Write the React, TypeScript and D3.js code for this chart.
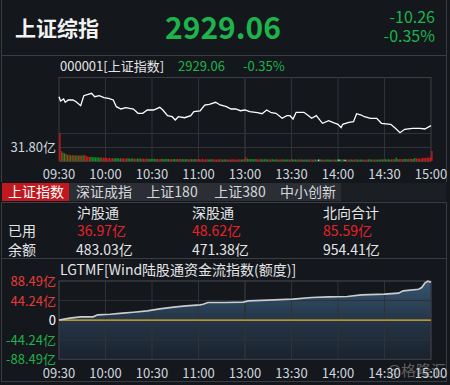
import React from "react";
import * as d3 from "d3";

// ---------- data ----------
const timeLabels = ["09:30", "10:00", "10:30", "11:00", "13:00", "13:30", "14:00", "14:30", "15:00"];
const prevClose = 2939.32;
const lastPrice = "2929.06";
const change = "-10.26";
const changePct = "-0.35%";

const priceMinute = [0, 1, 3, 4, 6, 9, 11, 14, 16, 21, 23, 26, 29, 32, 35, 37, 40, 43, 48, 51, 54, 57, 61, 65, 67, 70, 73, 75, 77, 81, 85, 87, 91, 94, 97, 101, 104, 108, 111, 114, 117, 120, 123, 128, 131, 134, 137, 140, 144, 147, 149, 151, 153, 158, 161, 163, 166, 170, 174, 177, 180, 182, 183, 187, 190, 192, 195, 197, 201, 205, 208, 214, 217, 220, 223, 228, 233, 236, 240];
const priceValue = [2943.43, 2941.3, 2942.29, 2940.66, 2941.8, 2941.8, 2940.96, 2938.97, 2943.93, 2945.12, 2943.43, 2943.93, 2942.94, 2942.64, 2941.8, 2938.48, 2937.34, 2937.98, 2937.34, 2935.21, 2935.21, 2936.84, 2936.84, 2938.18, 2936.84, 2934.02, 2933.52, 2931.88, 2933.52, 2933.02, 2934.02, 2936.0, 2936.35, 2939.32, 2939.67, 2940.66, 2939.32, 2938.48, 2937.34, 2937.34, 2936.49, 2936.84, 2936.0, 2935.5, 2935.01, 2936.84, 2935.5, 2935.21, 2932.73, 2934.02, 2934.02, 2932.38, 2935.7, 2935.7, 2934.02, 2932.73, 2934.02, 2930.25, 2931.54, 2930.55, 2929.75, 2928.07, 2929.75, 2930.74, 2931.04, 2935.01, 2934.36, 2933.52, 2932.73, 2932.73, 2930.25, 2929.75, 2927.77, 2925.6, 2927.27, 2927.77, 2927.77, 2927.42, 2929.06];

const volumeLabel = "31.80亿";
const volume = [
  62.9, 22.7, 18.8, 17.5, 15.9, 13.6, 14.3, 12.9, 13.6, 12.9, 12.5, 12.9, 12.2, 12.9, 12.0, 12.9, 13.6, 11.4, 9.8, 9.1, 9.5, 8.4, 8.8, 8.0, 8.4, 7.7, 8.0, 7.5, 7.7, 7.3,
  7.0, 6.4, 6.8, 6.1, 6.6, 5.9, 6.4, 6.8, 5.7, 6.1, 5.9, 6.4, 5.5, 5.9, 6.1, 5.2, 5.7, 5.9, 5.5, 5.0, 5.7, 5.2, 5.5, 4.8, 5.2, 5.0, 5.5, 4.5, 5.0, 4.8,
  5.2, 4.5, 4.8, 5.0, 4.3, 4.5, 4.8, 4.1, 4.5, 5.0, 4.3, 4.5, 3.9, 4.3, 4.5, 4.1, 4.8, 5.2, 4.3, 4.5, 3.9, 4.1, 4.5, 3.6, 4.3, 4.1, 3.9, 4.5, 4.3, 3.9,
  4.1, 3.9, 4.5, 3.6, 3.9, 4.3, 3.4, 3.9, 4.1, 3.6, 3.9, 3.4, 3.6, 4.1, 3.9, 3.2, 3.6, 3.9, 3.4, 3.6, 3.2, 3.9, 3.6, 3.4, 3.2, 3.6, 3.9, 3.4, 3.6, 4.3,
  8.4, 5.0, 4.5, 4.1, 4.3, 3.9, 4.5, 4.1, 3.6, 3.9, 4.3, 3.6, 3.9, 4.1, 3.4, 3.9, 3.6, 4.1, 3.4, 3.6, 3.9, 3.2, 3.6, 3.9, 3.4, 3.6, 3.2, 3.9, 3.4, 3.6,
  3.9, 3.4, 3.6, 3.2, 3.9, 3.4, 3.6, 3.0, 3.4, 3.6, 3.2, 3.4, 3.9, 3.2, 3.6, 3.4, 3.0, 3.4, 3.6, 3.2, 3.4, 3.0, 3.6, 3.2, 3.4, 2.9, 3.2, 3.6, 3.0, 3.4,
  3.6, 3.2, 3.9, 3.4, 3.0, 3.6, 3.4, 3.2, 3.6, 3.0, 3.4, 3.9, 3.6, 3.2, 3.4, 3.6, 3.0, 3.4, 3.2, 3.6, 3.9, 3.4, 3.2, 3.6, 3.4, 3.0, 3.6, 3.4, 3.9, 3.6,
  3.9, 3.6, 4.1, 3.4, 3.9, 4.3, 3.6, 8.0, 4.5, 4.1, 4.8, 3.9, 4.5, 5.0, 4.3, 4.8, 5.2, 4.5, 5.0, 7.0, 5.5, 6.1, 5.2, 5.9, 6.6, 7.3, 6.4, 7.7, 7.9, 8.2,
  22.7,
];
const volumeDir = [
  "rrggrgrgrg", "rgrgrgrrrr", "gggggggrrr",
  "rrrrrggggg", "rrrrggggrr", "gggrrrrggg",
  "gggrrrgggg", "grrgggrrrg", "gggrrgggrr",
  "rrrrrrgggr", "rrrrrgggrr", "rrrrrrrggr",
  "rggggggrrr", "gggggrrggg", "grrrggggrr",
  "ggggrrgggg", "grrrgggwgg", "rrggggrrgg",
  "wgggwrrggg", "rrggggrrrg", "ggrrgggggr",
  "ggggrrgggr", "rrgggrrggg", "rrrrrrrrrr",
  "r",
];

const tabs = ["上证指数", "深证成指", "上证180", "上证380", "中小创新"];
const tableCols = ["沪股通", "深股通", "北向合计"];
const rowLabels = ["已用", "余额"];
const usedValues = ["36.97亿", "48.62亿", "85.59亿"];
const remainValues = ["483.03亿", "471.38亿", "954.41亿"];

const flowTitle = "LGTMF[Wind陆股通资金流指数(额度)]";
const flowTicks = [88.49, 44.24, 0, -44.24, -88.49];
const flowTickLabels = ["88.49亿", "44.24亿", "0", "-44.24亿", "-88.49亿"];
const flowMinute = [0, 7, 14, 22, 25, 33, 41, 48, 57, 65, 74, 82, 91, 93, 96, 107, 119, 122, 135, 151, 163, 174, 186, 195, 210, 219, 222, 232, 234, 236, 238, 240];
const flowValue = [0.5, 4.5, 7.5, 7.5, 12, 13.5, 15.8, 18, 21, 25.5, 29.4, 32.3, 34.6, 36, 39.8, 39.8, 40.7, 43.6, 45.2, 47.5, 51.1, 52.7, 53.4, 57.2, 58.8, 61, 66.2, 70, 73.7, 83.6, 88.2, 85.59];

// ---------- styles ----------
const BG = "#14171c";
const BORDER = "#3a3d43";
const GRID = "#2f3238";
const GREEN = "#1db44c";
const RED = "#e8222a";
const TEXT = "#e4e6e8";
const AXIS_TEXT = "#cfd6de";
const FONT = "'Noto Sans CJK SC', 'Noto Sans', sans-serif";

export default function App() {
  const x = d3.scaleLinear().domain([0, 240]).range([59, 431]);
  const span = 0.4957 * 28;
  const yPrice = d3.scaleLinear().domain([prevClose - span, prevClose + span]).range([133, 77]);
  const yVol = d3.scaleLinear().domain([0, 63.6]).range([161, 133]);
  const yFlow = d3.scaleLinear().domain([-88.49, 88.49]).range([359.3, 281]);

  const priceLine = d3
    .line<number>()
    .x((_, i) => x(priceMinute[i]))
    .y((d) => yPrice(d))(priceValue) as string;

  const flowLine = d3
    .line<number>()
    .x((_, i) => x(flowMinute[i]))
    .y((d) => yFlow(d))(flowValue) as string;
  const flowArea = d3
    .area<number>()
    .x((_, i) => x(flowMinute[i]))
    .y0(359.3)
    .y1((d) => yFlow(d))(flowValue) as string;

  const dirs = volumeDir.join("");
  const dirColor = (c: string) => (c === "r" ? "#e01818" : c === "w" ? "#f0f0f0" : "#0f9a1e");

  const gridXs = timeLabels.map((_, i) => x(i * 30));

  return (
    <svg
      width={450}
      height={385}
      style={{ position: "absolute", left: 0, top: 0, display: "block", fontFamily: FONT }}
    >
      <defs>
        <linearGradient id="flowGrad" x1="0" y1="281" x2="0" y2="359" gradientUnits="userSpaceOnUse">
          <stop offset="0" stopColor="#36556f" />
          <stop offset="0.5" stopColor="#253648" />
          <stop offset="1" stopColor="#1a222d" />
        </linearGradient>
      </defs>
      <rect x={0} y={0} width={450} height={385} fill={BG} />

      {/* header */}
      <text x={15} y={36} fill="#f2f2f2" fontSize={21} fontWeight="bold">上证综指</text>
      <text x={165} y={39} fill={GREEN} fontSize={30} fontWeight="bold">{lastPrice}</text>
      <text x={435} y={23} fill={GREEN} fontSize={16} textAnchor="end">{change}</text>
      <text x={435} y={42} fill={GREEN} fontSize={16} textAnchor="end">{changePct}</text>

      {/* outer frames */}
      <line x1={1.5} y1={0} x2={1.5} y2={182} stroke={BORDER} />
      <line x1={446.5} y1={0} x2={446.5} y2={182} stroke={BORDER} />
      <line x1={1.5} y1={55.5} x2={446.5} y2={55.5} stroke={BORDER} />

      {/* top chart title */}
      <text x={60} y={71} fill={TEXT} fontSize={13}>000001[上证指数]</text>
      <text x={178} y={71} fill={GREEN} fontSize={13}>{lastPrice}</text>
      <text x={243} y={71} fill={GREEN} fontSize={13}>{changePct}</text>

      {/* top chart grid */}
      {[77, 133, 147, 161].map((y) => (
        <line key={y} x1={59} x2={431} y1={y + 0.5} y2={y + 0.5} stroke={y === 77 || y === 161 ? "#3c3f45" : GRID} />
      ))}
      {gridXs.map((gx, i) => (
        <line key={i} x1={gx} x2={gx} y1={77} y2={161} stroke={i === 0 || i === 8 ? "#3c3f45" : GRID} strokeWidth={i === 4 ? 1.6 : 1} />
      ))}

      {/* volume bars */}
      {volume.map((v, i) => (
        <rect
          key={i}
          x={x(i) + 0.3}
          y={yVol(v)}
          width={1.2}
          height={161 - yVol(v)}
          fill={dirColor(dirs[i] || "g")}
        />
      ))}
      <text x={56} y={152} fill={AXIS_TEXT} fontSize={13} textAnchor="end">{volumeLabel}</text>

      {/* price line */}
      <path d={priceLine} fill="none" stroke="#ffffff" strokeWidth={1.3} />

      {/* time labels top */}
      {timeLabels.map((t, i) => (
        <text key={t} x={gridXs[i]} y={178.5} fill={AXIS_TEXT} fontSize={13} textAnchor="middle">{t}</text>
      ))}

      {/* tabs */}
      <rect x={2} y={183} width={444} height={18} fill="#1b1e23" />
      <rect x={69} y={183} width={272} height={18} fill="#2b2e34" />
      <rect x={2} y={183} width={67} height={18} fill="#c0181e" />
      {tabs.map((t, i) => (
        <text key={t} x={36 + i * 68} y={197} fill={i === 0 ? "#ffffff" : "#d6d8da"} fontSize={14} textAnchor="middle">{t}</text>
      ))}

      {/* table */}
      <line x1={1.5} y1={202.5} x2={446.5} y2={202.5} stroke={BORDER} />
      <line x1={1.5} y1={202.5} x2={1.5} y2={382} stroke={BORDER} />
      <line x1={446.5} y1={202.5} x2={446.5} y2={382} stroke={BORDER} />
      <line x1={1.5} y1={258.5} x2={446.5} y2={258.5} stroke={BORDER} />
      {tableCols.map((c, i) => (
        <text key={c} x={[77, 192, 323][i]} y={218} fill={TEXT} fontSize={14}>{c}</text>
      ))}
      {rowLabels.map((r, i) => (
        <text key={r} x={8} y={[236, 255][i]} fill={TEXT} fontSize={14}>{r}</text>
      ))}
      {usedValues.map((v, i) => (
        <text key={v} x={[77, 192, 323][i]} y={236} fill={RED} fontSize={14}>{v}</text>
      ))}
      {remainValues.map((v, i) => (
        <text key={v} x={[76, 192, 323][i]} y={255} fill={TEXT} fontSize={14}>{v}</text>
      ))}

      {/* bottom chart */}
      <text x={60} y={275} fill={TEXT} fontSize={14}>{flowTitle}</text>
      <path d={flowArea} fill="url(#flowGrad)" />
      {flowTicks.map((t) => (
        <line key={t} x1={59} x2={431} y1={yFlow(t)} y2={yFlow(t)} stroke={t === 0 ? "none" : GRID} />
      ))}
      {gridXs.map((gx, i) => (
        <line key={i} x1={gx} x2={gx} y1={281} y2={359.3} stroke={GRID} strokeWidth={i === 4 ? 1.6 : 1} />
      ))}
      <rect x={59} y={281} width={372} height={78.3} fill="none" stroke="#3c3f45" />
      <line x1={59} x2={431} y1={yFlow(0)} y2={yFlow(0)} stroke="#e8b424" strokeWidth={1.2} />
      <path d={flowLine} fill="none" stroke="#c9ccd0" strokeWidth={1.6} />
      {flowTicks.map((t, i) => (
        <text
          key={t}
          x={56}
          y={yFlow(t) + 5}
          fill={t > 0 ? "#e83a3a" : t < 0 ? "#22b04c" : "#ffffff"}
          fontSize={13}
          textAnchor="end"
        >
          {flowTickLabels[i]}
        </text>
      ))}
      {timeLabels.map((t, i) => (
        <text key={t} x={gridXs[i]} y={378} fill={AXIS_TEXT} fontSize={13} textAnchor="middle">{t}</text>
      ))}
      <text x={446} y={376} fill="rgba(210,210,210,0.4)" fontSize={15} textAnchor="end">@格隆汇</text>
      <line x1={1.5} y1={381.5} x2={446.5} y2={381.5} stroke={BORDER} />
    </svg>
  );
}
